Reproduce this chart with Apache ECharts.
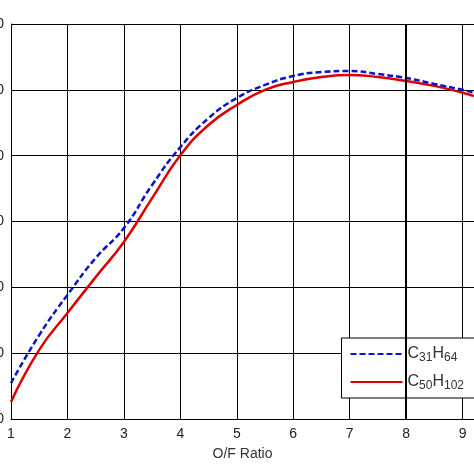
<!DOCTYPE html><html><head><meta charset="utf-8"><script src="https://cdn.jsdelivr.net/npm/echarts@6/dist/echarts.min.js"></script></head><body style="margin:0;background:#fff"><div id="c" style="width:474px;height:474px"></div><script>
const ofRatio=[1,1.5,2,2.5,3,3.5,4,4.5,5,5.5,6,6.5,7,7.5,8,8.5,9,9.2];
const c31=[2509,2655,2777,2889,2980,3111,3226,3314,3375,3415,3442,3454,3457,3448,3436,3418,3400,3391];
const c50=[2452,2610,2722,2831,2938,3071,3201,3293,3354,3400,3424,3439,3445,3439,3427,3412,3391,3381];
const names=['{a|C}{s|31}{a|H}{s|64}','{a|C}{s|50}{a|H}{s|102}'];
const chart=echarts.init(document.getElementById('c'));
chart.setOption({animation:false,
grid:{left:11,right:-45,top:24,bottom:55,containLabel:false,outerBoundsMode:'none'},
xAxis:{type:'value',min:1,max:10,interval:1,name:'O/F Ratio',nameLocation:'middle',nameGap:28,nameTextStyle:{fontSize:14,color:'#333',fontFamily:'Liberation Sans',padding:[0,45,0,0]},
axisLine:{lineStyle:{color:'#000'}},axisTick:{show:false},axisLabel:{fontSize:14,color:'#222',fontFamily:'Liberation Sans'},splitLine:{lineStyle:{color:'#000',width:1}}},
yAxis:{type:'value',min:2400,max:3600,interval:200,axisLine:{show:true,lineStyle:{color:'#000'}},axisTick:{show:false},axisLabel:{fontSize:14,color:'#222',fontFamily:'Liberation Sans',margin:7},splitLine:{lineStyle:{color:'#000',width:1}}},
legend:{orient:'vertical',right:-40,top:338,backgroundColor:'#fff',borderColor:'#000',borderWidth:1,borderRadius:0,padding:[8,50,6,8],itemWidth:52,itemGap:10,itemStyle:{opacity:0},
textStyle:{rich:{a:{fontSize:16,color:'#333'},s:{fontSize:12,color:'#333',verticalAlign:'bottom',padding:[8,0,0,0]}}},
formatter:n=>n,data:names},
series:[
{name:names[0],type:'line',smooth:true,symbol:'none',data:ofRatio.map((x,i)=>[x,c31[i]]),lineStyle:{color:'#0a14c8',width:2.5,type:[6,3]},itemStyle:{color:'#0a14c8'},z:3,
markLine:{silent:true,symbol:'none',label:{show:false},lineStyle:{color:'#000',width:2,type:'solid'},data:[{xAxis:8}]}},
{name:names[1],type:'line',smooth:true,symbol:'none',data:ofRatio.map((x,i)=>[x,c50[i]]),lineStyle:{color:'#e00000',width:2.5},itemStyle:{color:'#e00000'},z:2}
]});
</script></body></html>
